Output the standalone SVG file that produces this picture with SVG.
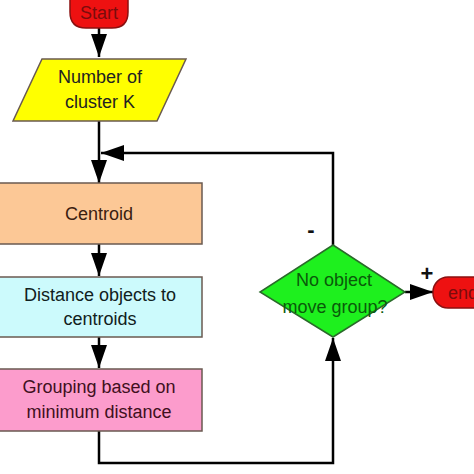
<svg xmlns="http://www.w3.org/2000/svg" width="474" height="474" viewBox="0 0 474 474">
<defs>
<marker id="ah" markerUnits="userSpaceOnUse" markerWidth="23" markerHeight="16" refX="23" refY="8" orient="auto">
<path d="M0,0 L23,8 L0,16 Z" fill="#000"/>
</marker>
<style>
text{font-family:"Liberation Sans",Arial,sans-serif;font-size:18px;text-anchor:middle}
.box{stroke:#6a5a50;stroke-width:1.5}
.ln{fill:none;stroke:#000;stroke-width:2.5}
.sign{font-size:22px;font-weight:bold;fill:#111}
</style>
</defs>
<rect width="474" height="474" fill="#fff"/>
<g id="connectors">
<path class="ln" d="M99,28 L99,57" marker-end="url(#ah)"/>
<path class="ln" d="M99,121 L99,183" marker-end="url(#ah)"/>
<path class="ln" d="M333,245 L333,153 L101,153" marker-end="url(#ah)"/>
<path class="ln" d="M99,244 L99,276" marker-end="url(#ah)"/>
<path class="ln" d="M99,337 L99,368" marker-end="url(#ah)"/>
<path class="ln" d="M99,431 L99,463 L333,463 L333,338" marker-end="url(#ah)"/>
<path class="ln" d="M405,292 L433,292" marker-end="url(#ah)"/>
<text class="sign" x="311" y="237">-</text>
<text class="sign" x="427" y="281">+</text>
</g>
<g id="start">
<path d="M70,-10 L128,-10 L128,12 Q128,28 112,28 L86,28 Q70,28 70,12 Z" fill="#ee1111" stroke="#8a1010" stroke-width="1.5"/>
<text x="99" y="19" fill="#7a0c0c">Start</text>
</g>
<g id="input">
<polygon class="box" points="42,59 186,59 157,121 13,121" fill="#ffff00"/>
<text x="100" y="83" fill="#222">Number of</text>
<text x="100" y="108" fill="#222">cluster K</text>
</g>
<g id="centroid">
<rect class="box" x="-2" y="183" width="204" height="61" fill="#fcc896"/>
<text x="99" y="220" fill="#3a2010">Centroid</text>
</g>
<g id="distance">
<rect class="box" x="-2" y="277" width="204" height="60" fill="#ccfafc"/>
<text x="100" y="301" fill="#102020">Distance objects to</text>
<text x="100" y="325" fill="#102020">centroids</text>
</g>
<g id="grouping">
<rect class="box" x="-2" y="369" width="204" height="62" fill="#fc9ccc"/>
<text x="99" y="393" fill="#401020">Grouping based on</text>
<text x="99" y="418" fill="#401020">minimum distance</text>
</g>
<g id="decision">
<polygon points="333,245 405,292 333,337 260,292" fill="#1ef01e" stroke="#2a6a2a" stroke-width="1.5"/>
<text x="334" y="286" fill="#0a5a0a">No object</text>
<text x="335" y="313" fill="#0a5a0a">move group?</text>
</g>
<g id="end">
<rect x="433" y="277" width="60" height="31" rx="15" fill="#ee1111" stroke="#8a1010" stroke-width="1.5"/>
<text x="448" y="299" fill="#7a0c0c" style="text-anchor:start">end</text>
</g>
</svg>
